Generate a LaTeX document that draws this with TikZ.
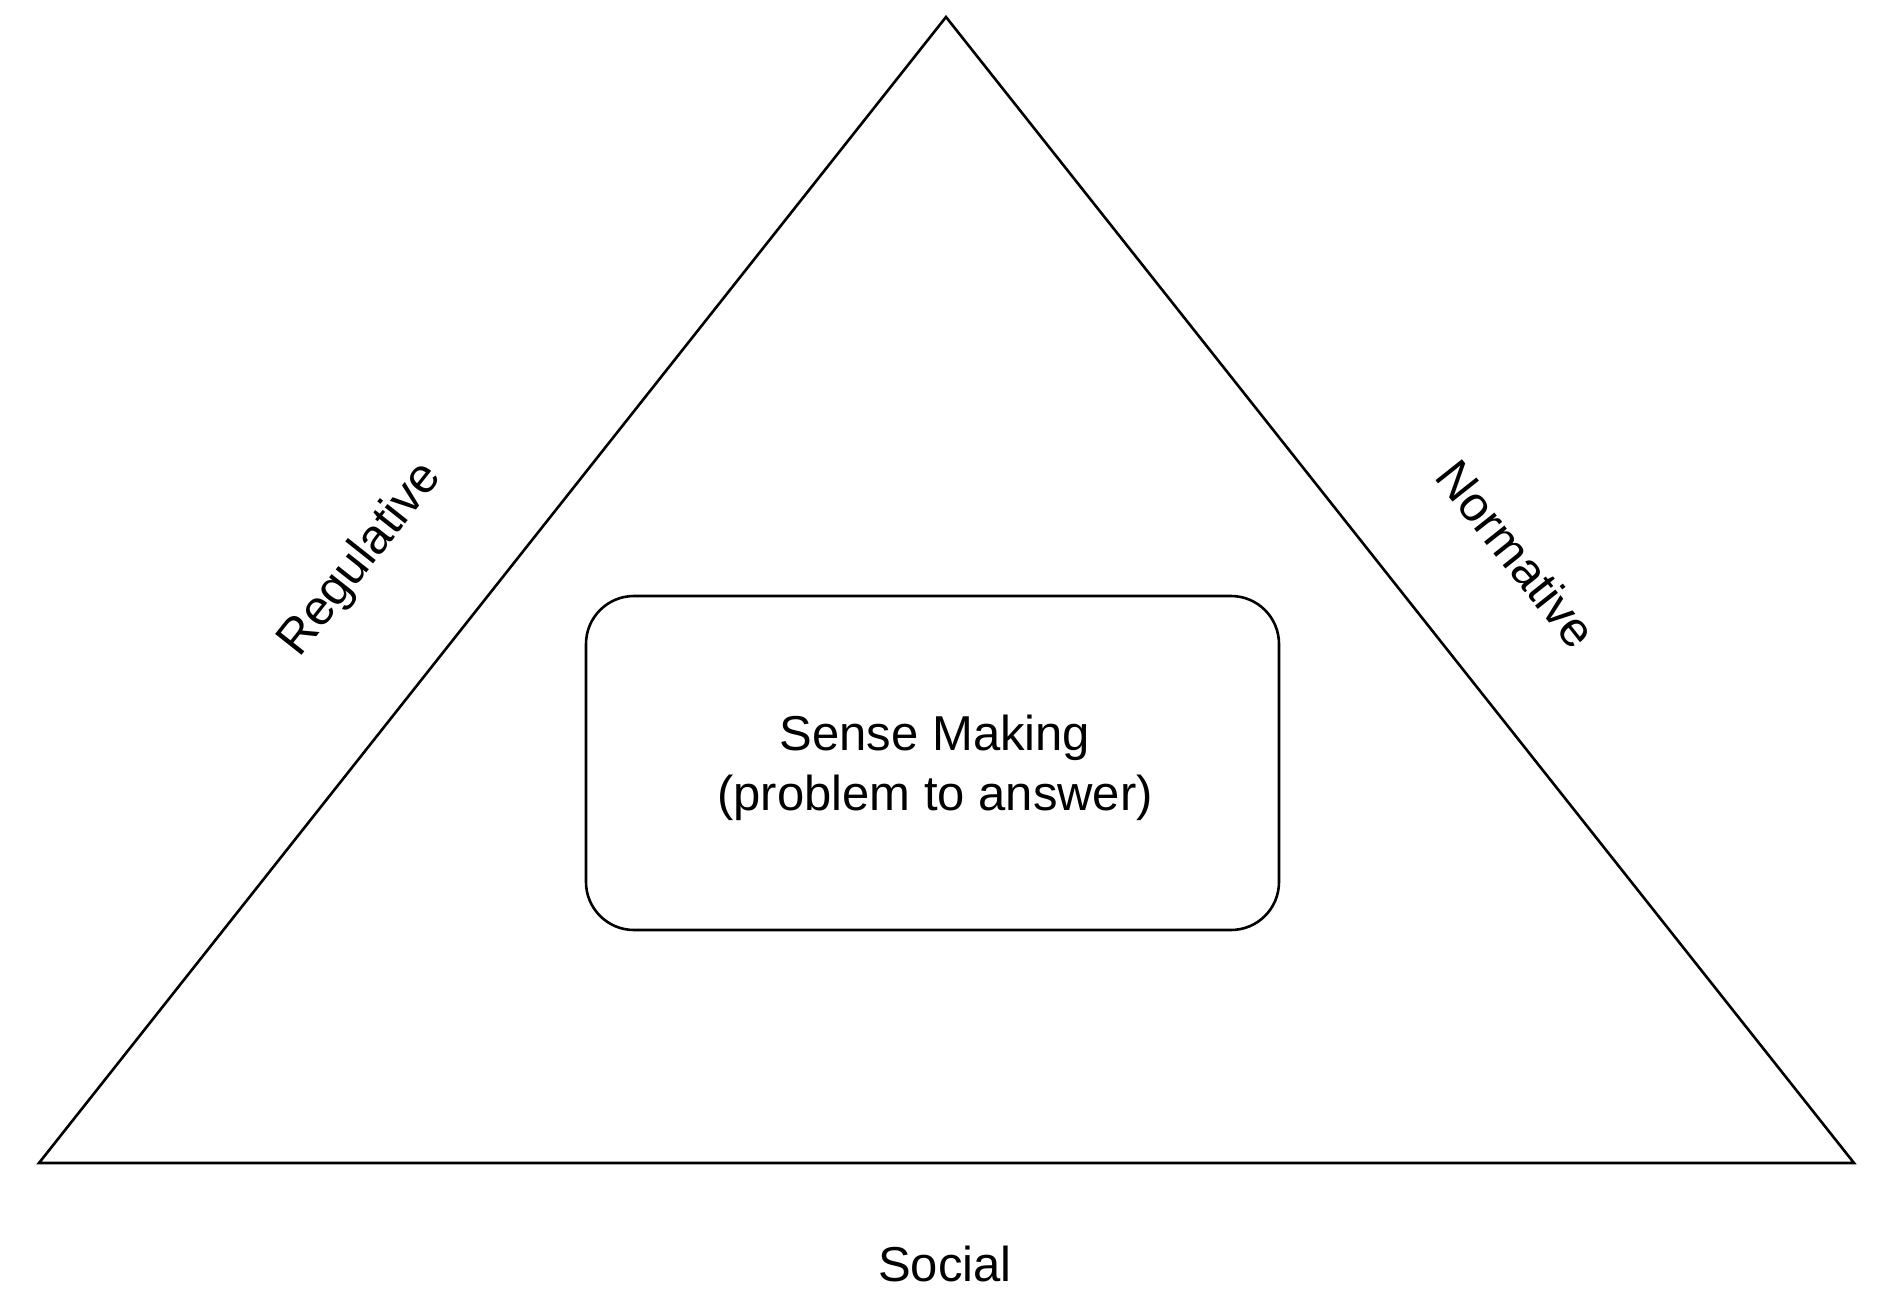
\documentclass[tikz,border=0pt]{standalone}
\usepackage{fontspec}
\setmainfont{Liberation Sans}
\begin{document}
\begin{tikzpicture}[x=1pt,y=-1pt,
  lbl/.style={font=\fontsize{49}{60}\selectfont, inner sep=0pt, align=center},
  edge/.style={line width=2.6pt}]
\useasboundingbox (0,0) rectangle (1888,1308);
\coordinate (apex) at (946,17);
\coordinate (bl) at (39,1163);
\coordinate (br) at (1854,1163);
\draw[edge, line join=miter] (apex) -- (bl) -- (br) -- cycle;
\node[draw, line width=2.6pt, rounded corners=48pt, minimum width=693pt, minimum height=334pt] (box) at (932.5,763) {};
\node[lbl] (sm) at (935,768) {Sense Making\\(problem to answer)};
\node[lbl, rotate=51.6] (reg) at (361,560) {Regulative};
\node[lbl, rotate=-51.6] (nor) at (1517,554) {Normative};
\node[lbl] (soc) at (945,1264) {Social};
\end{tikzpicture}
\end{document}
